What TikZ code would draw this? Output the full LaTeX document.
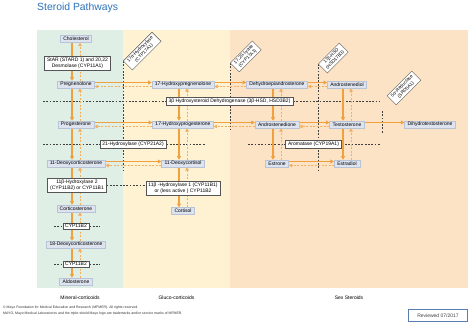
\documentclass[tikz,border=0pt]{standalone}
\usepackage{fontspec}
\setmainfont{Liberation Sans}
\usetikzlibrary{arrows.meta}
\pgfdeclarelayer{panels}
\pgfdeclarelayer{lines}
\pgfsetlayers{panels,lines,main}
\definecolor{titleblue}{HTML}{2B72B8}
\definecolor{mineral}{HTML}{DFEFE5}
\definecolor{gluco}{HTML}{FEF2D3}
\definecolor{sexst}{HTML}{FDE3C6}
\definecolor{cmpfill}{HTML}{DDE3EF}
\definecolor{cmpdraw}{HTML}{B9C3D6}
\definecolor{arrorange}{HTML}{F0A03C}
\definecolor{arrlight}{HTML}{F3B060}
\definecolor{enzdraw}{HTML}{555555}
\definecolor{revdraw}{HTML}{5B7DB1}
\begin{document}
\begin{tikzpicture}[x=1pt,y=-1pt,
  cmp/.style={draw=cmpdraw, fill=cmpfill, line width=0.4pt, font=\fontsize{5}{6}\selectfont, inner xsep=3pt, inner ysep=1.2pt, minimum height=7pt},
  enz/.style={draw=enzdraw, fill=white, line width=0.4pt, font=\fontsize{5}{6}\selectfont, inner xsep=2.5pt, inner ysep=1.5pt, align=center},
  renz/.style={draw=enzdraw, fill=white, line width=0.4pt, font=\fontsize{4.6}{5.5}\selectfont, inner xsep=3pt, inner ysep=1.5pt, align=center, rotate=45},
  fwd/.style={draw=arrorange, line width=1.1pt, -{Triangle[length=3.6pt,width=3.8pt]}},
  rev/.style={draw=arrlight, line width=0.65pt, dash pattern=on 2pt off 1.5pt, -{Triangle[length=3.4pt,width=3.6pt]}},
  enzline/.style={draw=black!75, line width=0.45pt, dash pattern=on 1.8pt off 1.5pt},
  lab/.style={font=\fontsize{5}{6}\selectfont, inner sep=0pt}
]
\useasboundingbox (0,0) rectangle (474,323);

\begin{pgfonlayer}{panels}
  \fill[mineral] (37,30) rectangle (123,288);
  \fill[gluco] (123,30) rectangle (230,288);
  \fill[sexst] (230,30) rectangle (468,288);
\end{pgfonlayer}

\node[anchor=west, font=\fontsize{10.4}{12}\selectfont, text=titleblue, inner sep=0pt] (title) at (37,7.5) {Steroid Pathways};

% compounds and enzymes
\node[cmp] (chol) at (76,39) {Cholesterol};
\node[enz] (star) at (77.5,63) {StAR (STARD 1) and 20,22\\Desmolase (CYP11A1)};
\node[cmp] (preg) at (76,84.5) {Pregnenolone};
\node[cmp] (ohpreg) at (183,84.5) {17-Hydroxypregnenolone};
\node[cmp] (dhea) at (277,84.5) {Dehydroepiandrosterone};
\node[cmp] (adiol) at (347,84.5) {Androstenediol};
\node[enz] (hsd) at (229.5,101) {3β Hydroxysteroid Dehydrogenase (3β-HSD, HSD3B2)};
\node[cmp] (prog) at (76,124.5) {Progesterone};
\node[cmp] (ohprog) at (183,124.5) {17-Hydroxyprogesterone};
\node[cmp] (andro) at (277,124.5) {Androstenedione};
\node[cmp] (testo) at (347,124.5) {Testosterone};
\node[cmp] (dht) at (430,124.5) {Dihydrotestosterone};
\node[enz] (hyd21) at (133,144) {21-Hydroxylase (CYP21A2)};
\node[enz] (arom) at (313.5,144) {Aromatase (CYP19A1)};
\node[cmp] (doc) at (76,163.5) {11-Deoxycorticosterone};
\node[cmp] (doco) at (183,163.5) {11-Deoxycortisol};
\node[cmp] (estrone) at (277,163.5) {Estrone};
\node[cmp] (estradiol) at (347,163.5) {Estradiol};
\node[enz] (hydb) at (77,185) {11β-Hydroxylase 2\\(CYP11B2) or CYP11B1};
\node[enz] (hyda) at (183,188.5) {11β -Hydroxylase 1 (CYP11B1)\\or (less active ) CYP11B2};
\node[cmp] (cort) at (76,208.5) {Corticosterone};
\node[cmp] (cortisol) at (183,211) {Cortisol};
\node[enz] (cypa) at (76,226) {CYP11B2};
\node[cmp] (ohcort) at (76,244.5) {18-Deoxycorticosterone};
\node[enz] (cypb) at (76,264) {CYP11B2};
\node[cmp] (aldo) at (76,281.5) {Aldosterone};

% rotated enzyme boxes
\node[renz, anchor=north west] (hyd17) at (123,61) {17α-Hydroxylase\\(CYP17A1)};
\node[renz, anchor=north west] (lyase) at (230,63) {17,20-Lyase\\(CYP17A1)};
\node[renz, anchor=north west] (hsd17) at (318,64) {17β-HSD\\(HSD17B3)};
\node[renz] (srd) at (404,88) {5α-Reductase\\(SRD5A1)};

% coordinates for free ends of enzyme lines
\coordinate (hsdL) at (43,101);
\coordinate (hsdR) at (380,101);
\coordinate (h21L) at (43,144);
\coordinate (h21R) at (205,144);
\coordinate (aroL) at (248,144);
\coordinate (aroR) at (380,144);
\coordinate (cypaL) at (54,226);
\coordinate (cypaR) at (100,226);
\coordinate (cypbL) at (54,264);
\coordinate (cypbR) at (100,264);
\coordinate (h17B) at (123,170);
\coordinate (lyB) at (230,130);
\coordinate (hsd17B) at (318,170);
\coordinate (srdA) at (382,111);
\coordinate (srdB) at (382,134);

\begin{pgfonlayer}{lines}
  % enzyme lines
  \draw[enzline] (hsdL) -- (hsd.west);
  \draw[enzline] (hsd.east) -- (hsdR);
  \draw[enzline] (h21L) -- (hyd21.west);
  \draw[enzline] (hyd21.east) -- (h21R);
  \draw[enzline] (aroL) -- (arom.west);
  \draw[enzline] (arom.east) -- (aroR);
  \draw[enzline] (hydb.east) -- (hydb.east -| hyda.west);
  \draw[enzline] (cypaL) -- (cypa.west);
  \draw[enzline] (cypa.east) -- (cypaR);
  \draw[enzline] (cypbL) -- (cypb.west);
  \draw[enzline] (cypb.east) -- (cypbR);
  \draw[enzline] (hyd17.north west) -- (h17B);
  \draw[enzline] (lyase.north west) -- (lyB);
  \draw[enzline] (hsd17.north west) -- (hsd17B);
  \draw[enzline] (srdA) -- (srdB);
  % horizontal reaction arrows
  \foreach \a/\b in {preg/ohpreg, ohpreg/dhea, dhea/adiol, prog/ohprog, ohprog/andro, andro/testo, doc/doco, estrone/estradiol} {
    \draw[fwd] ([yshift=2pt]\a.east) -- ([yshift=2pt]\b.west);
    \draw[rev] ([yshift=-2pt]\b.west) -- ([yshift=-2pt]\a.east);
  }
  \draw[fwd] ([yshift=2pt]testo.east) -- ([yshift=2pt]dht.west);
  % vertical reaction arrows
  \foreach \a/\b in {chol/preg, preg/prog, prog/doc, doc/cort, cort/ohcort, ohcort/aldo, ohpreg/ohprog, ohprog/doco, doco/cortisol, dhea/andro, andro/estrone, adiol/testo, testo/estradiol} {
    \draw[fwd] ([xshift=-4pt]\a.south) -- ([xshift=-4pt]\b.north);
    \draw[rev] ([xshift=4pt]\b.north) -- ([xshift=4pt]\a.south);
  }
\end{pgfonlayer}

% column labels
\node[lab] (labm) at (80,297.5) {Mineral-corticoids};
\node[lab] (labg) at (176.5,297.5) {Gluco-corticoids};
\node[lab] (labs) at (349,297.5) {Sex Steroids};

% footer
\node[anchor=west, font=\fontsize{3.5}{4.2}\selectfont, inner sep=0pt, text=black!80] (foot1) at (3,308) {© Mayo Foundation for Medical Education and Research (MFMER). All rights reserved.};
\node[anchor=west, font=\fontsize{3.5}{4.2}\selectfont, inner sep=0pt, text=black!80] (foot2) at (3,314) {MAYO, Mayo Medical Laboratories and the triple-shield Mayo logo are trademarks and/or service marks of MFMER.};
\node[draw=revdraw, line width=0.8pt, minimum width=59pt, minimum height=12pt, inner sep=0pt, font=\fontsize{5}{6}\selectfont, text=black!75] (reviewed) at (438,315.5) {Reviewed 07/2017};
\end{tikzpicture}
\end{document}
